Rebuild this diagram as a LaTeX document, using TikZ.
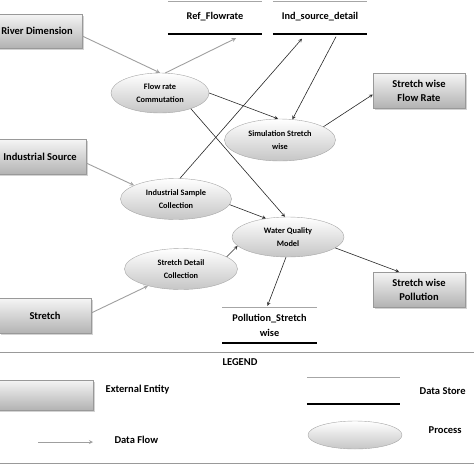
\documentclass[tikz,border=0pt]{standalone}
\usepackage{fontspec}
\setmainfont{Carlito}
\usetikzlibrary{positioning,shapes.geometric,shadows}

\begin{document}
\begin{tikzpicture}[
  x=1pt, y=-1pt,
  >=stealth,
  entity/.style={
        draw=gray!80,
        top color=gray!8,
        bottom color=gray!60,
        drop shadow={shadow xshift=1.5pt, shadow yshift=-1.5pt, opacity=0.35},
        minimum width=92pt,
        minimum height=35pt,
        align=center,
        font=\fontsize{10.5}{14}\selectfont\bfseries
  },
  process/.style={
        draw=gray!70,
        ellipse,
        top color=white,
        bottom color=gray!45,
        inner sep=0pt,
        minimum width=111pt,
        minimum height=41pt,
        align=center,
        font=\fontsize{8.3}{13}\selectfont\bfseries
  },
  store/.style={
        minimum width=94pt,
        minimum height=34pt,
        inner sep=0pt,
        align=center,
        font=\fontsize{10.3}{15}\selectfont\bfseries
  },
  legtext/.style={
        font=\fontsize{10.5}{12}\selectfont\bfseries
  },
  dataflow/.style={->, black!85, line width=0.6pt},
  inflow/.style={->, gray!75, line width=0.9pt}
]

    \useasboundingbox (0,0) rectangle (474,474);

    % external entities
    \node[entity, minimum width=90pt, minimum height=34pt] (E_river) at (37,31) {River Dimension};
    \node[entity] (E_ind) at (40,157) {Industrial Source};
    \node[entity] (E_str) at (45,316) {Stretch};
    \node[entity] (E_sfr) at (419,90.5) {Stretch wise\\Flow Rate};
    \node[entity] (E_swp) at (419,289.5) {Stretch wise\\Pollution};

    % processes
    \node[process, minimum width=98pt, minimum height=40pt] (P_flow) at (160,93) {Flow rate\\Commutation};
    \node[process, minimum height=42pt] (P_sim) at (280,140) {Simulation Stretch\\wise};
    \node[process] (P_ind) at (176,199) {Industrial Sample\\Collection};
    \node[process, minimum width=113pt] (P_str) at (181,269) {Stretch Detail\\Collection};
    \node[process, minimum width=112pt, minimum height=40pt] (P_wqm) at (288,237) {Water Quality\\Model};

    % data stores
    \node[store] (D_ref) at (215,17) {Ref\_Flowrate};
    \node[store] (D_ind) at (320,16.5) {Ind\_source\_detail};
    \node[store, minimum height=35pt] (D_pol) at (269.5,325.5) {Pollution\_Stretch\\wise};
    \draw[gray!70, line width=0.8pt] (D_ref.north west |- 0,1) -- (D_ref.north east |- 0,1);
    \draw[gray!70, line width=0.8pt] (D_ind.north west |- 0,1) -- (D_ind.north east |- 0,1);
    \draw[gray!70, line width=0.8pt] (D_pol.north west) -- (D_pol.north east);
    \foreach \d in {D_ref, D_ind, D_pol} {
        \draw[black, line width=2pt] (\d.south west) -- (\d.south east);
    }

    % flows
    \draw[inflow] ([yshift=-5pt]E_river.east) -- (P_flow.north);
    \draw[inflow] (P_flow.75) -- ([xshift=21pt,yshift=-4pt]D_ref.south);
    \draw[dataflow] (P_flow.east) -- ([xshift=-2pt]P_sim.north);
    \draw[dataflow] (P_flow.-27) -- ([xshift=-3pt]P_wqm.north);
    \draw[dataflow] ([xshift=4pt]P_ind.north) -- ([xshift=-18pt,yshift=-5pt]D_ind.south);
    \draw[dataflow] ([xshift=16pt,yshift=-3pt]D_ind.south) -- (P_sim.59);
    \draw[dataflow] (P_sim.17) -- ([yshift=-4pt]E_sfr.west);
    \draw[inflow] ([yshift=-6pt]E_ind.east) -- (P_ind.162);
    \draw[dataflow] (P_ind.-6) -- (P_wqm.140);
    \draw[dataflow] (P_str.15) -- (P_wqm.190);
    \draw[inflow] ([yshift=3pt]E_str.east) -- (P_str.207);
    \draw[dataflow] ([xshift=-2pt]P_wqm.south) -- ([xshift=-2pt,yshift=2pt]D_pol.north);
    \draw[dataflow] (P_wqm.-13) -- ([xshift=-20pt]E_swp.north);

    % legend
    \draw[gray!80, line width=0.9pt] (0,352) -- (474,352);
    \draw[gray!80, line width=0.9pt] (0,463) -- (474,463);
    \node[legtext] (L_title) at (240,362) {LEGEND};

    \node[entity, minimum width=95pt, minimum height=30pt] (L_ent) at (45.5,395) {};
    \node[legtext, right=9pt of L_ent, yshift=5pt] {External Entity};

    \coordinate (L_fstart) at (38,442);
    \coordinate (L_fend) at (93,442);
    \draw[inflow, line width=0.8pt] (L_fstart) -- (L_fend);
    \node[legtext, right=18pt of L_fend, yshift=2pt] {Data Flow};

    \node[store, minimum width=93pt, minimum height=26pt] (L_store) at (353.5,391) {};
    \draw[gray!70, line width=0.8pt] (L_store.north west) -- (L_store.north east);
    \draw[black, line width=2pt] (L_store.south west) -- (L_store.south east);
    \node[legtext, right=16pt of L_store] {Data Store};

    \node[process, minimum width=94pt, minimum height=28pt] (L_proc) at (355,435) {};
    \node[legtext, right=23pt of L_proc, yshift=5pt] {Process};

\end{tikzpicture}
\end{document}
